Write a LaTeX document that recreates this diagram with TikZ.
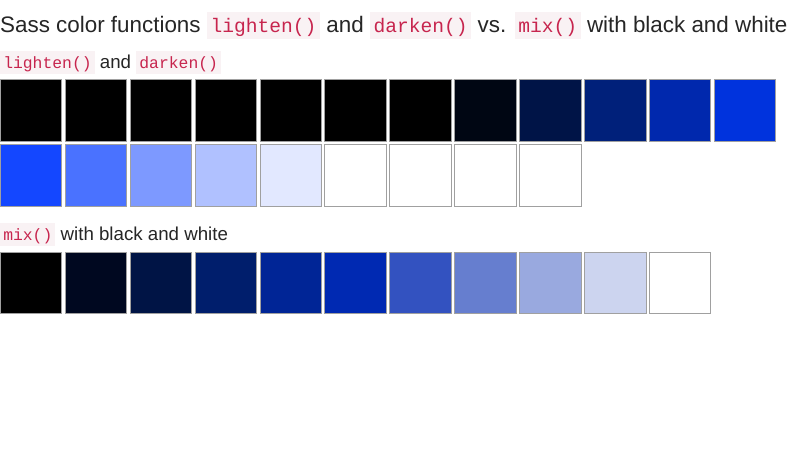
\documentclass[tikz,border=0pt]{standalone}
\usepackage{fontspec}
\setmainfont{Liberation Sans}
\setmonofont{Liberation Mono}
\definecolor{txt}{HTML}{262626}
\definecolor{codebg}{HTML}{F9F2F4}
\definecolor{codefg}{HTML}{C7254E}
\definecolor{swborder}{HTML}{A0A0A0}
% row 1: darken()
\definecolor{a1}{HTML}{000000}
\definecolor{a2}{HTML}{000000}
\definecolor{a3}{HTML}{000000}
\definecolor{a4}{HTML}{000000}
\definecolor{a5}{HTML}{000000}
\definecolor{a6}{HTML}{000000}
\definecolor{a7}{HTML}{000000}
\definecolor{a8}{HTML}{000613}
\definecolor{a9}{HTML}{001447}
\definecolor{a10}{HTML}{00207A}
\definecolor{a11}{HTML}{0028AD}
\definecolor{a12}{HTML}{0033DD}
% row 2: lighten()
\definecolor{b1}{HTML}{1447FF}
\definecolor{b2}{HTML}{4A72FF}
\definecolor{b3}{HTML}{7D99FF}
\definecolor{b4}{HTML}{B0C1FF}
\definecolor{b5}{HTML}{E2E8FF}
\definecolor{b6}{HTML}{FFFFFF}
\definecolor{b7}{HTML}{FFFFFF}
\definecolor{b8}{HTML}{FFFFFF}
\definecolor{b9}{HTML}{FFFFFF}
% row 3: mix()
\definecolor{m1}{HTML}{000000}
\definecolor{m2}{HTML}{000820}
\definecolor{m3}{HTML}{001445}
\definecolor{m4}{HTML}{001E6C}
\definecolor{m5}{HTML}{002596}
\definecolor{m6}{HTML}{0029B2}
\definecolor{m7}{HTML}{3352C0}
\definecolor{m8}{HTML}{667ECF}
\definecolor{m9}{HTML}{99A9DF}
\definecolor{m10}{HTML}{CCD4EF}
\definecolor{m11}{HTML}{FFFFFF}
\newcommand\codeb[1]{{\setlength\fboxsep{0pt}\colorbox{codebg}{\hspace{0.165em}\rule[-0.3em]{0pt}{1.22em}{\ttfamily\fontsize{0.875em}{1em}\selectfont\color{codefg}#1}\hspace{0.165em}}}}
\tikzset{
  swatch/.style={draw=swborder, line width=1pt, minimum size=61.5pt, inner sep=0pt},
  heading/.style={anchor=base west, inner sep=0pt, text=txt},
}
\begin{document}
\begin{tikzpicture}[x=1pt,y=-1pt]
\useasboundingbox[fill=white] (0,0) rectangle (800,450);
\node[heading, font=\fontsize{22.4}{27}\selectfont] (title) at (0,32.5)
  {Sass color functions \codeb{lighten()} and \codeb{darken()} vs. \codeb{mix()} with black and white};
\node[heading, font=\fontsize{18.7}{22}\selectfont] (h1) at (0,68)
  {\codeb{lighten()} and \codeb{darken()}};
\node[heading, font=\fontsize{18.7}{22}\selectfont] (h2) at (0,240)
  {\codeb{mix()} with black and white};
\foreach \i in {1,...,12}
  \node[swatch, fill=a\i] (a\i) at ({(\i-1)*64.9+31.2}, 110.4) {};
\foreach \i in {1,...,9}
  \node[swatch, fill=b\i] (b\i) at ({(\i-1)*64.9+31.2}, 175.6) {};
\foreach \i in {1,...,11}
  \node[swatch, fill=m\i] (m\i) at ({(\i-1)*64.9+31.2}, 283) {};
\end{tikzpicture}
\end{document}
